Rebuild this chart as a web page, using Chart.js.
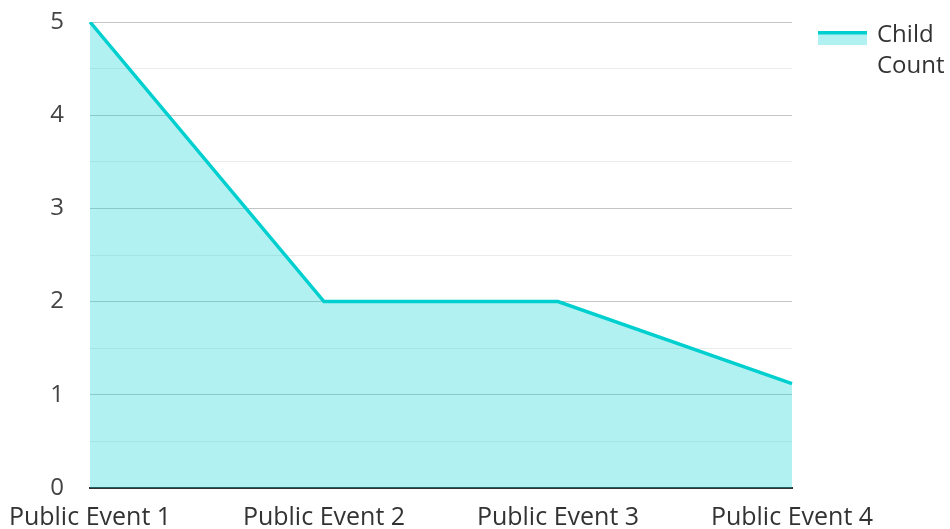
<!DOCTYPE html>
<html><head><meta charset="utf-8">
<script src="https://cdn.jsdelivr.net/npm/chart.js@4"></script>
<style>html,body{margin:0;padding:0;background:#fff}#wrap{width:950px;height:529px}</style>
</head><body><div id="wrap"><canvas id="c" width="950" height="529"></canvas></div>
<script>
const categories = ['Public Event 1', 'Public Event 2', 'Public Event 3', 'Public Event 4'];
const childCount = [5, 2, 2, 1.12];
const seriesLabel = ['Child', 'Count'];
const yTicks = [0, 1, 2, 3, 4, 5];

const LINE = '#00CFD0';
const FILL = 'rgba(0,207,208,0.3)';
const FONT = '"Open Sans", sans-serif';

Chart.defaults.font.family = FONT;
Chart.defaults.font.size = 24;
Chart.defaults.color = '#444';

const sideLegend = {
  id: 'sideLegend',
  afterDraw(chart) {
    const ctx = chart.ctx;
    const ds = chart.data.datasets[0];
    ctx.save();
    ctx.fillStyle = ds.backgroundColor;
    ctx.fillRect(818, 31, 49, 14);
    ctx.fillStyle = ds.borderColor;
    ctx.fillRect(818, 31, 49, 3.5);
    ctx.fillStyle = '#333';
    ctx.font = '24px ' + FONT;
    ctx.textBaseline = 'alphabetic';
    ctx.textAlign = 'left';
    const lines = Array.isArray(ds.label) ? ds.label : [ds.label];
    lines.forEach((t, i) => ctx.fillText(t, 877, 42 + i * 31));
    ctx.restore();
  }
};

new Chart(document.getElementById('c'), {
  type: 'line',
  data: {
    labels: categories,
    datasets: [{
      label: seriesLabel,
      data: childCount,
      borderColor: LINE,
      backgroundColor: FILL,
      borderWidth: 3.5,
      fill: 'origin',
      pointRadius: 0,
      pointHoverRadius: 0,
      tension: 0
    }]
  },
  plugins: [sideLegend],
  options: {
    responsive: false,
    animation: false,
    layout: { padding: { top: 22, right: 158, bottom: 0, left: 0 } },
    plugins: {
      tooltip: { enabled: false },
      legend: { display: false }
    },
    scales: {
      x: {
        grid: { display: false },
        border: { display: true, color: '#333', width: 2 },
        ticks: { maxRotation: 0, autoSkip: false, padding: 7, font: { size: 25 }, color: '#333' },
        afterFit(s) { s.paddingLeft = 0; s.paddingRight = 0; s.height = 41; }
      },
      y: {
        min: 0, max: 5,
        border: { display: false },
        grid: {
          drawTicks: false,
          color: (ctx) => (ctx.tick && Number.isInteger(ctx.tick.value)) ? 'rgba(110,120,120,0.42)' : 'rgba(150,160,160,0.2)',
          lineWidth: 1
        },
        ticks: {
          stepSize: 0.5,
          padding: 26,
          font: { size: 24 },
          color: '#444',
          callback: (v) => yTicks.includes(v) ? String(v) : ''
        },
        afterFit(s) { s.width = 90; s.paddingTop = 0; s.paddingBottom = 0; }
      }
    }
  }
});
</script>
</body></html>
